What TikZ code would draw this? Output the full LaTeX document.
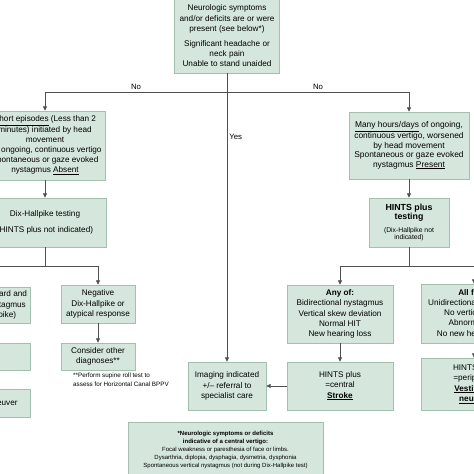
\documentclass[tikz,border=0pt]{standalone}
\usepackage{fontspec}
\setmainfont{Liberation Sans}
\usetikzlibrary{arrows.meta}

\definecolor{boxfill}{RGB}{213,231,221}
\definecolor{boxline}{RGB}{163,192,175}
\definecolor{wire}{RGB}{80,80,80}

\newcommand{\finetext}{\fontsize{6.8}{7.5}\selectfont}

\begin{document}
\begin{tikzpicture}[
    x=1pt, y=-1pt,
    box/.style 2 args={draw=boxline, fill=boxfill, align=center, inner sep=1pt,
                       minimum width=#1, minimum height=#2,
                       font=\fontsize{8.2}{10.2}\selectfont},
    link/.style={draw=wire, line width=0.8pt, -{Triangle[length=4.5pt,width=4pt]}},
    every edge/.style={link},
    lbl/.style={font=\fontsize{7.8}{9}\selectfont, inner sep=2pt},
    note/.style={align=left, inner sep=0pt, font=\fontsize{6.3}{8.6}\selectfont}
  ]

  \fill[white] (0,0) rectangle (474,474);
  \useasboundingbox (0,0) rectangle (474,474);
  \clip (0,0) rectangle (474,474);

  % top question
  \node[box={105pt}{74pt}] (onset) at (227,36)
    {Neurologic symptoms\\and/or deficits are or were\\present (see below*)\\[5pt]%
     Significant headache or\\neck pain\\Unable to stand unaided};

  % left branch
  \node[box={120pt}{69pt}] (brief) at (45,145.5)
    {\underline{Short episodes} (Less than 2\\minutes) initiated by head\\movement\\%
     No ongoing, continuous vertigo\\Spontaneous or gaze evoked\\nystagmus \underline{Absent}};
  \node[box={122pt}{49pt}] (dixtest) at (45,222.5)
    {Dix-Hallpike testing\\[6pt](HINTS plus not indicated)};
  \node[box={84pt}{36pt}] (posdix) at (-12,305)
    {Torsional upward and\\geotropic nystagmus\\(+ Dix-Hallpike)};
  \node[box={84pt}{27pt}] (bppv) at (-12,356.5) {};
  \node[box={84pt}{28pt}] (epley) at (-12,403) {Epley maneuver};
  \node[box={74pt}{38pt}] (negdix) at (98,304)
    {Negative\\Dix-Hallpike or\\atypical response};
  \node[box={74pt}{27pt}] (other) at (98,356.5) {Consider other\\diagnoses**};
  \node[note, anchor=north west] (rolltest) at (73,373)
    {**Perform supine roll test to\\assess for Horizontal Canal BPPV};

  % middle
  \node[box={78pt}{48pt}] (imaging) at (227,386)
    {Imaging indicated\\+/-- referral to\\specialist care};

  % right branch
  \node[box={120pt}{67pt}, font=\fontsize{8.4}{9.4}\selectfont] (prolonged) at (409,145.5)
    {\underline{Many hours/days} of ongoing,\\continuous vertigo, worsened\\by head movement\\%
     Spontaneous or gaze evoked\\nystagmus \underline{Present}};
  \node[box={80pt}{49pt}, font=\fontsize{8.8}{9.6}\selectfont] (hints) at (409,222.5)
    {\textbf{HINTS plus}\\\textbf{testing}\\[3pt]{\finetext(Dix-Hallpike not}\\[-2.5pt]{\finetext indicated)}};
  \node[box={106pt}{58pt}] (anyof) at (340,314)
    {\textbf{Any of:}\\Bidirectional nystagmus\\Vertical skew deviation\\Normal HIT\\New hearing loss};
  \node[box={106pt}{48pt}] (central) at (340,386)
    {HINTS plus\\=central\\\textbf{\underline{Stroke}}};
  \node[box={106pt}{59pt}] (allfour) at (474,313.5)
    {\textbf{All four:}\\Unidirectional nystagmus\\No vertical skew\\Abnormal HIT\\No new hearing loss};
  \node[box={106pt}{52pt}] (periph) at (474,384)
    {HINTS plus\\=peripheral\\\textbf{\underline{Vestibular}}\\\textbf{\underline{neuritis}}};

  % footnote
  \node[box={195pt}{56pt}, font=\fontsize{6}{8}\selectfont] (central-signs) at (225.5,450)
    {\textbf{*Neurologic symptoms or deficits}\\\textbf{indicative of a central vertigo:}\\%
     Focal weakness or paresthesia of face or limbs.\\%
     Dysarthria, diplopia, dysphagia, dysmetria, dysphonia\\%
     Spontaneous vertical nystagmus (not during Dix-Hallpike test)};

  % connectors
  \coordinate (fork) at (227,92);
  \coordinate (dixsplit) at (45,266);
  \coordinate (hintsplit) at (409,266);

  \path (onset) edge node[lbl, right, pos=0.22] {Yes} (imaging);
  \draw[link] (fork) -| node[lbl, above, pos=0.25] {No} (brief);
  \draw[link] (fork) -| node[lbl, above, pos=0.25] {No} (prolonged);

  \path (brief) edge (dixtest);
  \draw[draw=wire, line width=0.8pt] (dixtest) -- (dixsplit);
  \draw[link] (dixsplit) -| (posdix);
  \draw[link] (dixsplit) -| (negdix);
  \path (negdix) edge (other);

  \path (prolonged) edge (hints);
  \draw[draw=wire, line width=0.8pt] (hints) -- (hintsplit);
  \draw[link] (hintsplit) -| (anyof);
  \draw[link] (hintsplit) -| (allfour);
  \path (anyof) edge (central);
  \path (central) edge (imaging);
  \path (allfour) edge (periph);

\end{tikzpicture}
\end{document}
